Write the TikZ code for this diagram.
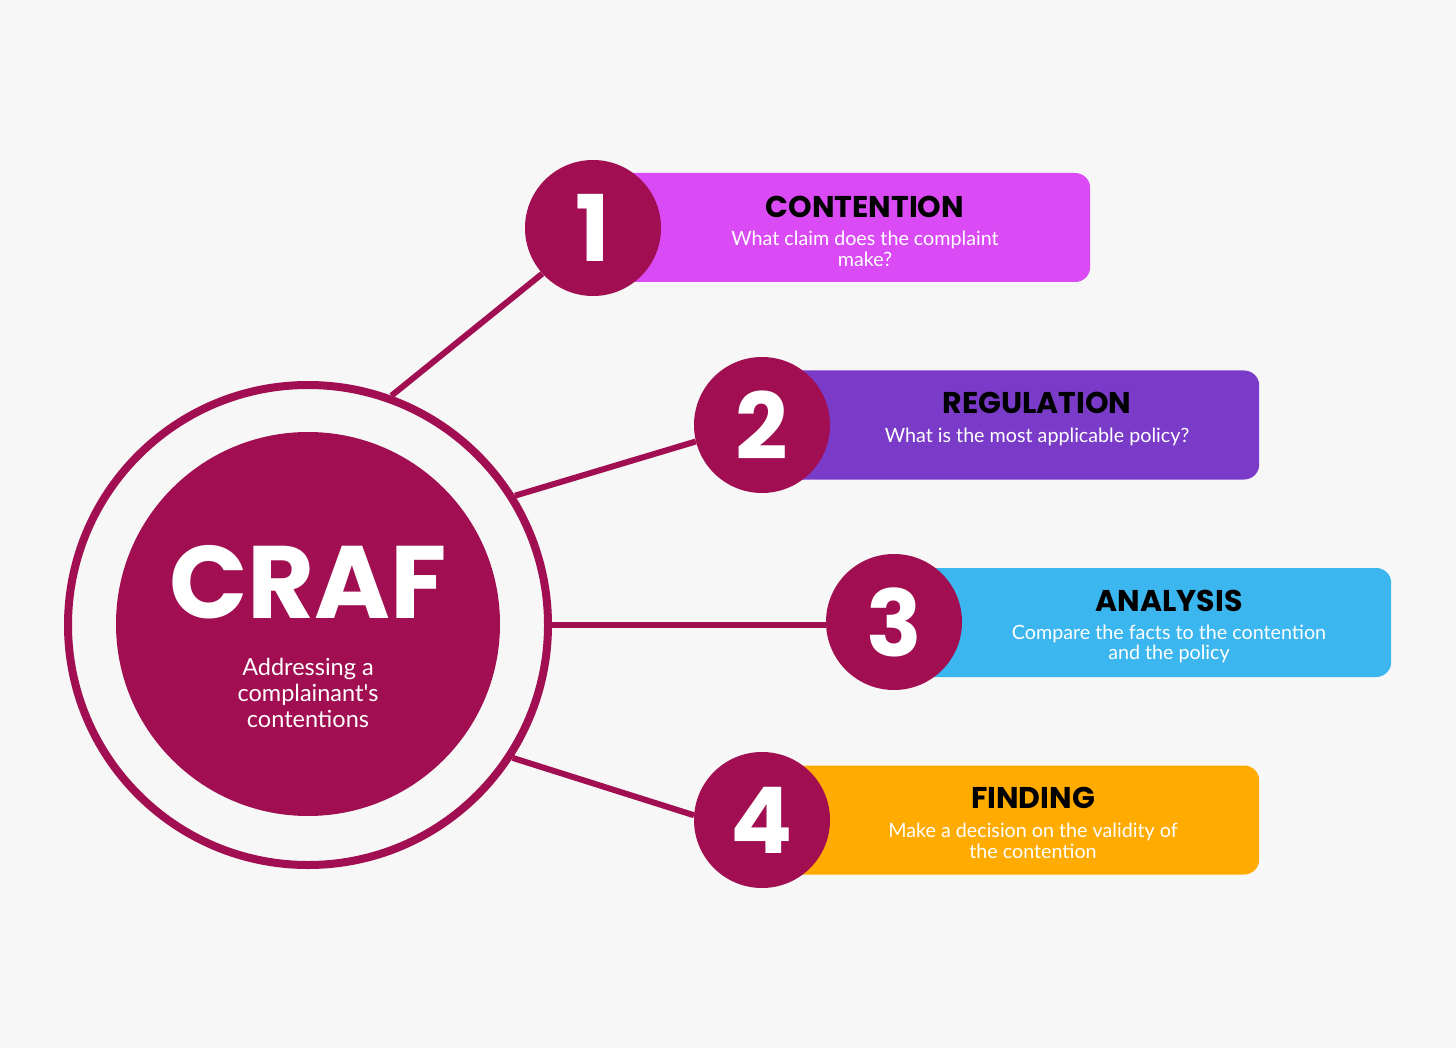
\documentclass[tikz,border=0pt]{standalone}
\usepackage{fontspec}
\setmainfont{Lato}
\newfontfamily\headfont{Poppins}
\definecolor{crim}{HTML}{A10F52}
\definecolor{bgc}{HTML}{F7F7F7}
\definecolor{mag}{HTML}{DA4BF6}
\definecolor{pur}{HTML}{7A3BC8}
\definecolor{sky}{HTML}{3BB6EE}
\definecolor{amb}{HTML}{FFAB00}
\tikzset{
  box/.style={rectangle, rounded corners=15pt, minimum width=497pt, minimum height=109pt, anchor=west, inner sep=0pt},
  num/.style={circle, fill=crim, minimum size=136pt, inner sep=0pt, text=white, font=\headfont\bfseries\fontsize{92}{92}\selectfont},
  head/.style={inner sep=0pt, text=black, font=\headfont\bfseries\fontsize{30}{30}\selectfont},
  sub/.style={inner sep=0pt, align=center, text=white, font=\fontsize{19.7}{20.8}\selectfont},
  conn/.style={draw=crim, line width=6pt}
}
\begin{document}
\begin{tikzpicture}[x=1pt, y=-1pt]
\fill[bgc] (0,0) rectangle (1456,1048);
\useasboundingbox (0,0) rectangle (1456,1048);
% boxes
\node[box, fill=mag] (b1) at (593,227.5) {};
\node[box, fill=pur] (b2) at (762,425) {};
\node[box, fill=sky] (b3) at (894,622.5) {};
\node[box, fill=amb] (b4) at (762,820) {};
% box texts
\node[head] (h1) at (865,207) {CONTENTION};
\node[sub] (s1) at (865,249) {What claim does the complaint\\make?};
\node[head] (h2) at (1037,403) {REGULATION};
\node[sub] (s2) at (1037,437) {What is the most applicable policy?};
\node[head] (h3) at (1169,601) {ANALYSIS};
\node[sub] (s3) at (1169,644) {Compare the facts to the contention\\and the policy};
\node[head] (h4) at (1033,798) {FINDING};
\node[sub] (s4) at (1033,841) {Make a decision on the validity of\\the contention};
% central circle
\node[circle, draw=crim, line width=8pt, minimum size=480pt, inner sep=0pt] (outer) at (308,625) {};
\node[circle, fill=crim, minimum size=384pt, inner sep=0pt] (inner) at (308,624) {};
\node[inner sep=0pt, text=white, font=\headfont\bfseries\fontsize{103}{103}\selectfont] (craf) at (308,582) {CRAF};
\node[inner sep=0pt, align=center, text=white, font=\fontsize{23.5}{26}\selectfont] (cap) at (308,693) {Addressing a\\complainant\textquotesingle s\\contentions};
% number circles
\node[num] (n1) at (593,228) {1};
\node[num] (n2) at (762,425) {2};
\node[num] (n3) at (894,622) {3};
\node[num] (n4) at (762,820) {4};
% connectors
\draw[conn] (outer.70) -- (n1.222);
\draw[conn] (outer.32) -- (n2.194);
\draw[conn] (outer.0) -- (outer.0 -| n3.west);
\draw[conn] (outer.-33) -- (n4.176);
\end{tikzpicture}
\end{document}
